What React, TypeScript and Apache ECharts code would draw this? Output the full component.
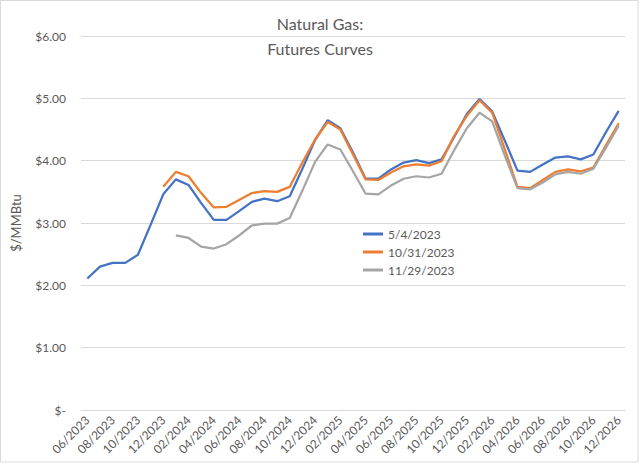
import React, { useEffect, useRef } from "react";
import * as echarts from "echarts";

const months = [
  "06/2023", "07/2023", "08/2023", "09/2023", "10/2023", "11/2023", "12/2023",
  "01/2024", "02/2024", "03/2024", "04/2024", "05/2024", "06/2024", "07/2024", "08/2024", "09/2024", "10/2024", "11/2024", "12/2024",
  "01/2025", "02/2025", "03/2025", "04/2025", "05/2025", "06/2025", "07/2025", "08/2025", "09/2025", "10/2025", "11/2025", "12/2025",
  "01/2026", "02/2026", "03/2026", "04/2026", "05/2026", "06/2026", "07/2026", "08/2026", "09/2026", "10/2026", "11/2026", "12/2026",
];

const curveMay2023 = [
  2.11, 2.30, 2.36, 2.36, 2.49, 2.97, 3.46,
  3.70, 3.61, 3.32, 3.05, 3.05, 3.19, 3.34, 3.39, 3.35, 3.43, 3.87, 4.33,
  4.65, 4.52, 4.13, 3.71, 3.71, 3.86, 3.97, 4.01, 3.96, 4.02, 4.38, 4.75,
  4.99, 4.79, 4.32, 3.84, 3.82, 3.94, 4.05, 4.07, 4.02, 4.10, 4.46, 4.80,
];

const curveOct2023 = [
  null, null, null, null, null, null, 3.58,
  3.82, 3.75, 3.48, 3.25, 3.26, 3.37, 3.48, 3.51, 3.50, 3.58, 3.97, 4.34,
  4.62, 4.50, 4.10, 3.70, 3.69, 3.81, 3.91, 3.94, 3.92, 3.99, 4.40, 4.72,
  4.97, 4.77, 4.18, 3.58, 3.56, 3.69, 3.82, 3.86, 3.83, 3.89, 4.25, 4.60,
];

const curveNov2023 = [
  null, null, null, null, null, null, null,
  2.80, 2.76, 2.62, 2.59, 2.66, 2.80, 2.96, 2.99, 2.99, 3.08, 3.52, 3.98,
  4.26, 4.18, 3.83, 3.47, 3.46, 3.60, 3.71, 3.75, 3.73, 3.79, 4.17, 4.52,
  4.77, 4.63, 4.08, 3.56, 3.54, 3.65, 3.78, 3.82, 3.79, 3.87, 4.21, 4.56,
];

const seriesNames = ["5/4/2023", "10/31/2023", "11/29/2023"];
const seriesColors = ["#4472C4", "#ED7D31", "#A5A5A5"];

const FONT = "Lato, 'Open Sans', sans-serif";
const TEXT = "#595959";

export default function App() {
  const ref = useRef<HTMLDivElement>(null);

  useEffect(() => {
    if (!ref.current) return;
    const chart = echarts.init(ref.current, undefined, { renderer: "svg" });
    const datas = [curveMay2023, curveOct2023, curveNov2023];
    chart.setOption({
      animation: false,
      backgroundColor: "#ffffff",
      textStyle: { fontFamily: FONT },
      title: {
        text: "Natural Gas:\nFutures Curves",
        left: "center",
        top: 6,
        textStyle: {
          fontFamily: FONT,
          fontSize: 16,
          fontWeight: "normal",
          color: TEXT,
          lineHeight: 25,
        },
      },
      graphic: [
        {
          type: "rect",
          shape: { x: 0.5, y: 0.5, width: 637.5, height: 461.5 },
          style: { fill: "none", stroke: "#d9d9d9", lineWidth: 1 },
          silent: true,
        },
      ],
      legend: {
        orient: "vertical",
        left: 358,
        top: 222,
        icon: "rect",
        itemWidth: 20,
        itemHeight: 3,
        itemGap: 4,
        textStyle: { fontFamily: FONT, fontSize: 12, color: TEXT, lineHeight: 14 },
        data: seriesNames,
      },
      grid: { left: 81, right: 15, top: 36, bottom: 54 },
      xAxis: {
        type: "category",
        data: months,
        boundaryGap: true,
        axisLine: { show: true, lineStyle: { color: "#d9d9d9" } },
        axisTick: { show: false },
        axisLabel: {
          interval: 1,
          rotate: 45,
          margin: 8,
          fontFamily: FONT,
          fontSize: 12,
          color: TEXT,
        },
      },
      yAxis: {
        type: "value",
        min: 0,
        max: 6,
        interval: 1,
        name: "$/MMBtu",
        nameLocation: "middle",
        nameGap: 59,
        nameTextStyle: { fontFamily: FONT, fontSize: 13, color: TEXT },
        axisLine: { show: false },
        axisTick: { show: false },
        axisLabel: {
          margin: 15,
          fontFamily: FONT,
          fontSize: 12,
          color: TEXT,
          formatter: (v: number) => (v === 0 ? "$-" : "$" + v.toFixed(2)),
        },
        splitLine: { lineStyle: { color: "#d9d9d9", width: 1 } },
      },
      series: seriesNames.map((name, i) => ({
        name,
        type: "line",
        data: datas[i],
        symbol: "none",
        showSymbol: false,
        connectNulls: false,
        lineStyle: { color: seriesColors[i], width: 2.25 },
        itemStyle: { color: seriesColors[i] },
      })),
    });
    return () => chart.dispose();
  }, []);

  return (
    <div
      ref={ref}
      style={{ position: "fixed", left: 0, top: 0, width: 640, height: 464 }}
    />
  );
}
